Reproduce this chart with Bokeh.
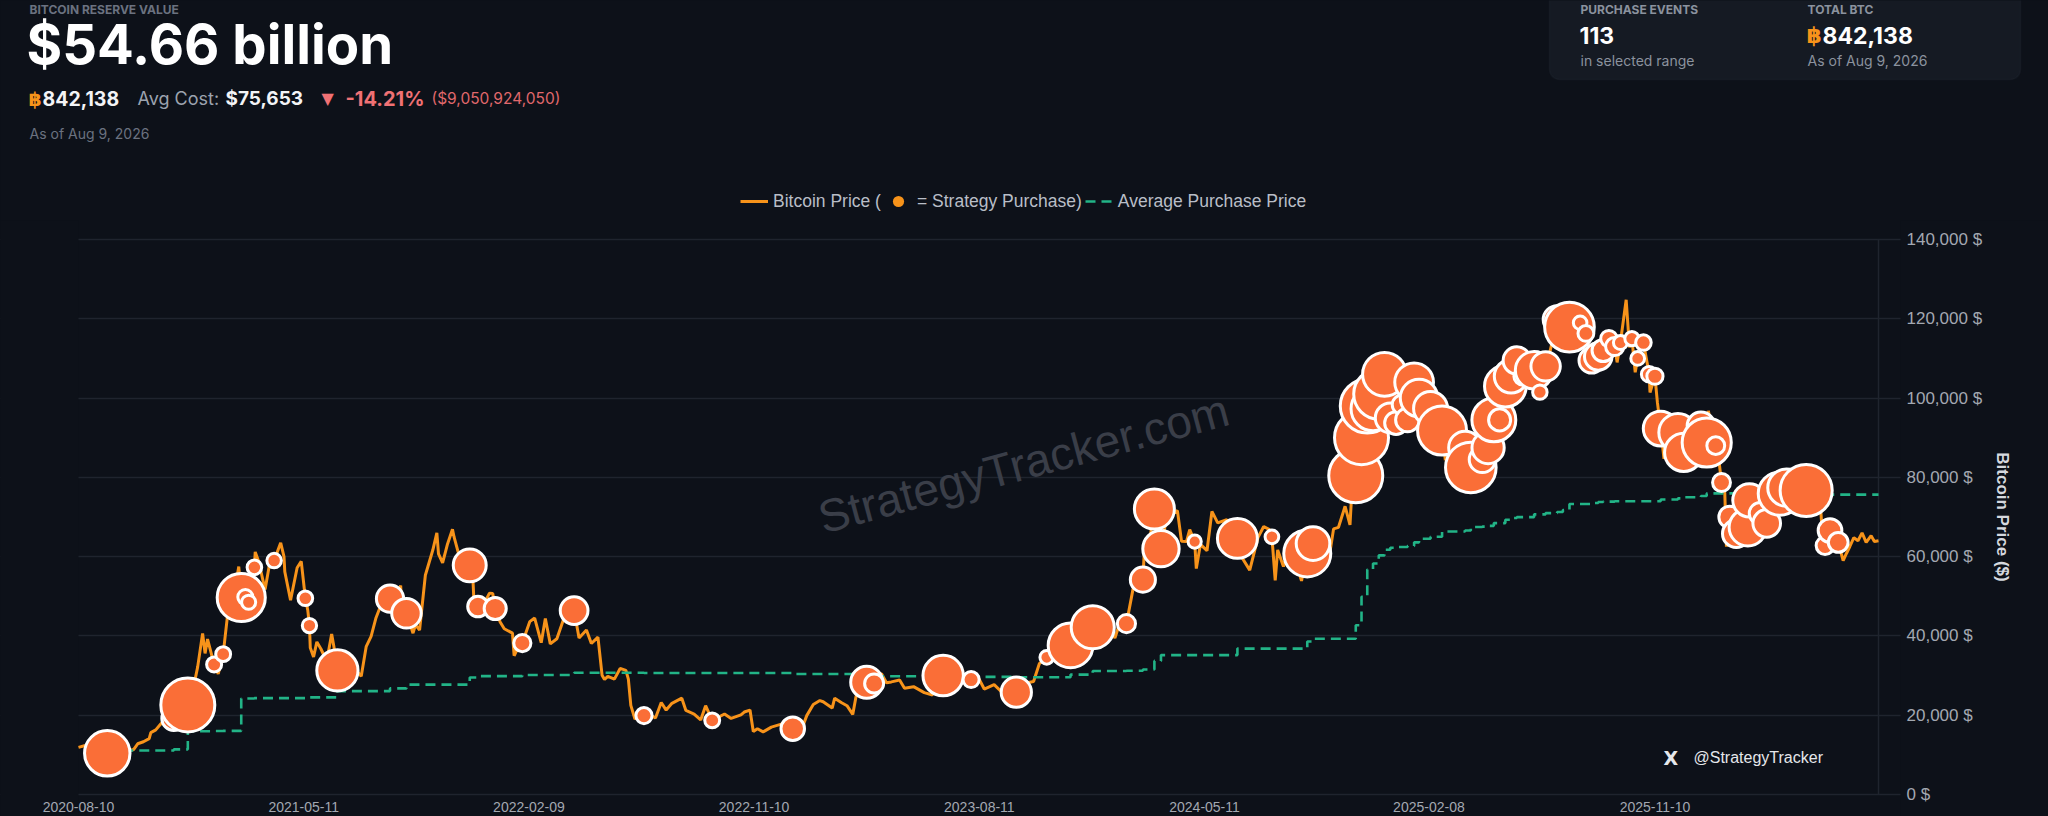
from datetime import datetime, timedelta
import numpy as np
import pandas as pd
from bokeh.plotting import figure
from bokeh.core.properties import value
from bokeh.models import (Range1d, FixedTicker, Grid, Label, Legend, LegendItem,
                          BoxAnnotation, ColumnDataSource, GlobalInlineStyleSheet)
from bokeh.embed import file_html
from bokeh.resources import INLINE

# ---------------- data ----------------
price_dates = [
 "2020-08-10","2020-08-17","2020-08-24","2020-09-01","2020-09-05","2020-09-14","2020-09-21","2020-09-28",
 "2020-10-08","2020-10-16","2020-10-21","2020-10-28","2020-11-04","2020-11-06","2020-11-12","2020-11-18",
 "2020-11-24","2020-11-26","2020-12-01","2020-12-04","2020-12-11","2020-12-16","2020-12-21","2020-12-24",
 "2020-12-28","2021-01-02","2021-01-08","2021-01-11","2021-01-14","2021-01-22","2021-01-27","2021-02-02",
 "2021-02-08","2021-02-14","2021-02-21","2021-02-24","2021-02-28","2021-03-01","2021-03-05","2021-03-09",
 "2021-03-12","2021-03-13","2021-03-17","2021-03-25","2021-03-31","2021-04-05","2021-04-13","2021-04-17",
 "2021-04-18","2021-04-25","2021-05-03","2021-05-08","2021-05-13","2021-05-16","2021-05-18","2021-05-19",
 "2021-05-23","2021-05-27","2021-06-01","2021-06-08","2021-06-14","2021-06-18","2021-06-21","2021-06-26",
 "2021-07-03","2021-07-08","2021-07-20","2021-07-26","2021-08-01","2021-08-07","2021-08-13","2021-08-22",
 "2021-08-24","2021-08-28","2021-09-06","2021-09-07","2021-09-13","2021-09-21","2021-09-24","2021-09-29",
 "2021-10-06","2021-10-15","2021-10-20","2021-10-22","2021-10-27","2021-11-02","2021-11-08","2021-11-10",
 "2021-11-16","2021-11-18","2021-11-24","2021-11-29","2021-12-03","2021-12-04","2021-12-09","2021-12-13",
 "2021-12-23","2021-12-27","2021-12-30","2022-01-05","2022-01-10","2022-01-20","2022-01-22","2022-01-27",
 "2022-02-01","2022-02-10","2022-02-16","2022-02-24","2022-03-01","2022-03-07","2022-03-15","2022-03-28",
 "2022-04-05","2022-04-11","2022-04-20","2022-04-26","2022-05-04","2022-05-09","2022-05-12","2022-05-16",
 "2022-05-24","2022-05-31","2022-06-07","2022-06-10","2022-06-13","2022-06-18","2022-06-22","2022-06-29",
 "2022-07-05","2022-07-13","2022-07-20","2022-07-26","2022-08-02","2022-08-14","2022-08-19","2022-08-29",
 "2022-09-06","2022-09-12","2022-09-20","2022-10-05","2022-10-13","2022-10-25","2022-10-29","2022-11-05",
 "2022-11-09","2022-11-14","2022-11-21","2022-12-01","2022-12-14","2022-12-20","2022-12-27","2023-01-08",
 "2023-01-13","2023-01-21","2023-01-29","2023-02-02","2023-02-13","2023-02-16","2023-02-24","2023-03-03",
 "2023-03-10","2023-03-14","2023-03-19","2023-03-27","2023-04-05","2023-04-11","2023-04-14","2023-04-20",
 "2023-04-26","2023-05-06","2023-05-12","2023-05-23","2023-06-05","2023-06-15","2023-06-21","2023-06-28",
 "2023-07-06","2023-07-13","2023-07-24","2023-08-01","2023-08-10","2023-08-17","2023-08-29","2023-09-11",
 "2023-09-19","2023-09-25","2023-10-01","2023-10-16","2023-10-23","2023-11-01","2023-11-09","2023-11-20",
 "2023-11-30","2023-12-05","2023-12-11","2023-12-20","2023-12-27","2024-01-03","2024-01-11","2024-01-15",
 "2024-01-23","2024-01-29","2024-02-06","2024-02-14","2024-02-20","2024-02-26","2024-02-28","2024-03-05",
 "2024-03-11","2024-03-14","2024-03-19","2024-03-26","2024-04-08","2024-04-13","2024-04-19","2024-04-23",
 "2024-04-29","2024-05-01","2024-05-06","2024-05-14","2024-05-20","2024-05-27","2024-06-07","2024-06-18",
 "2024-06-20","2024-06-24","2024-07-05","2024-07-15","2024-07-22","2024-07-29","2024-08-01","2024-08-05",
 "2024-08-08","2024-08-15","2024-08-25","2024-09-01","2024-09-06","2024-09-13","2024-09-20","2024-09-27",
 "2024-10-03","2024-10-10","2024-10-15","2024-10-21","2024-10-29","2024-11-04","2024-11-06","2024-11-11",
 "2024-11-13","2024-11-18","2024-11-22","2024-11-25","2024-11-26","2024-12-02","2024-12-05","2024-12-09",
 "2024-12-16","2024-12-20","2024-12-23","2024-12-26","2024-12-30","2025-01-06","2025-01-09","2025-01-13",
 "2025-01-20","2025-01-21","2025-01-27","2025-01-31","2025-02-03","2025-02-10","2025-02-18","2025-02-24",
 "2025-02-28","2025-03-02","2025-03-10","2025-03-17","2025-03-24","2025-03-31","2025-04-08","2025-04-14",
 "2025-04-21","2025-04-28","2025-05-05","2025-05-12","2025-05-19","2025-05-22","2025-05-26","2025-06-02",
 "2025-06-09","2025-06-16","2025-06-22","2025-06-23","2025-06-30","2025-07-03","2025-07-10","2025-07-14",
 "2025-07-21","2025-07-29","2025-08-02","2025-08-11","2025-08-14","2025-08-18","2025-08-25","2025-09-01",
 "2025-09-02","2025-09-08","2025-09-15","2025-09-22","2025-09-25","2025-09-29","2025-10-06","2025-10-10",
 "2025-10-13","2025-10-17","2025-10-20","2025-10-27","2025-11-03","2025-11-04","2025-11-10","2025-11-13",
 "2025-11-17","2025-11-21","2025-11-26","2025-12-01","2025-12-08","2025-12-15","2025-12-22","2025-12-29",
 "2026-01-05","2026-01-09","2026-01-12","2026-01-14","2026-01-17","2026-01-23","2026-01-27","2026-01-30",
 "2026-02-03","2026-02-05","2026-02-07","2026-02-09","2026-02-13","2026-02-17","2026-02-23","2026-03-03",
 "2026-03-05","2026-03-10","2026-03-18","2026-03-22","2026-03-26","2026-04-02","2026-04-11","2026-04-19",
 "2026-04-26","2026-05-04","2026-05-13","2026-05-22","2026-05-29","2026-05-31","2026-06-02","2026-06-05",
 "2026-06-11","2026-06-16","2026-06-21","2026-06-27","2026-07-01","2026-07-05","2026-07-10","2026-07-15",
 "2026-07-20","2026-07-25","2026-07-31","2026-08-04","2026-08-09"]
price_values = [
 11900,12300,11750,11900,10200,10400,10450,10700,
 10900,11350,12800,13300,14100,15600,16300,17800,
 19200,17100,19000,19200,18000,21300,22600,23700,
 27100,32200,40600,35600,39200,32800,30400,35400,
 46400,48700,57500,49700,45200,49800,48500,54000,
 57300,61200,58900,51700,58800,59000,63500,60000,
 56200,49000,57200,58800,49500,46400,42600,37000,
 34700,38500,36700,33600,40500,35800,31300,32300,
 34700,32900,29800,37300,39900,44600,47800,49300,
 49400,48900,52700,46800,45700,40700,42800,41500,
 55300,61600,66000,60700,58400,63200,66900,64900,
 60300,56900,57200,57800,53700,49400,47400,46700,
 50800,50700,46900,43500,41800,40700,35000,37100,
 38200,43600,44500,38300,44400,38000,39300,47100,
 46400,39500,41500,38100,39700,30100,29000,29800,
 29100,31800,31300,29100,22500,19000,20000,19900,
 20200,19300,23200,21300,23000,24300,21200,20300,
 18800,22400,18700,20300,19200,20100,20800,21300,
 15900,16600,15800,17000,17800,16900,16600,17100,
 19900,22700,23700,23400,21800,24300,23200,22400,
 20200,24700,28000,28300,28000,30200,30500,28200,
 28400,28900,26800,27200,25700,25100,30000,30000,
 30500,31400,29200,29000,29400,26600,27700,25100,
 27200,25800,27900,28500,33000,34600,36700,37400,
 37600,44000,41200,43600,42200,42800,46600,42500,
 39500,43300,43100,51800,52200,54200,62500,63800,
 72000,73100,62000,70000,71600,63900,63800,66800,
 63800,57000,63100,61500,71400,68500,69300,65100,
 64600,60300,56600,64800,67600,66800,65000,54000,
 61700,57500,64200,57300,53900,60800,63300,65800,
 60600,60300,67000,67400,72700,68000,75600,80400,
 90400,90000,98900,98000,91900,97300,103000,101000,
 106000,97500,95000,95800,93700,98300,92500,94500,
 106100,104000,100000,102400,98000,97400,95800,91800,
 84300,94200,78600,84000,87500,82500,76300,84500,
 87500,94500,94500,103000,105500,111700,109500,105500,
 108000,107000,101000,101500,108000,109600,116000,119800,
 117500,117900,112500,119000,118300,116300,109500,109200,
 110500,112000,115000,113000,109000,114000,124800,112800,
 115000,106500,110000,114000,106000,101400,105500,98900,
 92300,84700,90500,86500,91300,86300,88500,87500,
 93000,92000,88800,96800,93500,88000,84000,78700,
 76000,62500,68500,70000,66500,65800,67000,67400,
 74200,72000,70900,67500,68400,72500,75900,77400,
 74500,76000,76700,77800,74000,70900,64800,62800,
 66600,64500,63600,59000,60800,62500,64800,64000,
 66000,63600,65300,63800,64000]

purchase_dates = [
 "2020-09-14","2020-12-04","2020-12-21",
 "2021-01-22","2021-02-02","2021-02-24","2021-03-01","2021-03-05","2021-03-12","2021-04-05","2021-05-13",
 "2021-05-18","2021-06-21","2021-08-24","2021-09-13","2021-11-29","2021-12-09","2021-12-30",
 "2022-02-01","2022-04-05","2022-06-29","2022-09-20","2022-12-27",
 "2023-03-27","2023-04-05","2023-06-28","2023-08-01","2023-09-25","2023-11-01","2023-11-30","2023-12-27",
 "2024-02-06","2024-02-26","2024-03-11","2024-03-19","2024-04-29","2024-06-20","2024-08-01","2024-09-13",
 "2024-09-20","2024-11-11","2024-11-18","2024-11-25","2024-12-02","2024-12-09","2024-12-16","2024-12-23",
 "2024-12-30",
 "2025-01-06","2025-01-13","2025-01-21","2025-01-27","2025-02-10","2025-02-24","2025-03-17","2025-03-24",
 "2025-03-31","2025-04-14","2025-04-21","2025-04-28","2025-05-05","2025-05-12","2025-05-19","2025-05-26",
 "2025-06-02","2025-06-09","2025-06-16","2025-06-23","2025-06-30","2025-07-14","2025-07-21","2025-07-29",
 "2025-08-11","2025-08-18","2025-08-25","2025-09-02","2025-09-08","2025-09-15","2025-09-22","2025-09-29",
 "2025-10-13","2025-10-20","2025-10-27","2025-11-03","2025-11-10","2025-11-17","2025-12-01","2025-12-08",
 "2025-12-15","2025-12-29",
 "2026-01-05","2026-01-12","2026-01-23","2026-01-30","2026-02-09","2026-02-17","2026-03-03","2026-03-05",
 "2026-03-18","2026-03-26","2026-04-11","2026-04-19","2026-05-13","2026-06-05","2026-06-11","2026-06-21"]
purchase_prices = [
 10400,19200,22600,
 32800,35400,49700,49800,48500,57300,59000,49500,
 42600,31300,49400,45700,57800,47400,46900,
 38200,46400,19900,18700,16600,
 28300,28000,30000,29000,25800,34600,37600,42200,
 43100,54200,72000,62000,63800,64600,65000,60800,
 63300,80400,90000,98000,97300,101000,106000,95000,
 93700,
 98300,94500,104000,100000,97400,91800,84000,87500,
 82500,84500,87500,94500,94500,103000,105500,109500,
 105500,108000,107000,101500,108000,119800,117500,117900,
 119000,116300,109500,110500,112000,115000,113000,114000,
 115000,110000,114000,106000,105500,92300,86500,91300,
 86300,87500,
 93000,88800,88000,78700,70000,65800,67400,74200,
 70900,68400,75900,77400,76700,62800,66600,63600]
purchase_btc = [
 16796,2574,29646,
 314,295,19452,328,205,262,253,271,
 229,13005,3907,5050,7002,1434,1914,
 660,4167,480,301,2395,
 6455,1045,12333,467,5445,155,16130,14620,
 850,3000,12000,9245,122,11931,169,18300,
 7420,27200,51780,55500,15400,21550,15350,5262,
 2138,
 1070,2530,11000,10107,7633,20356,130,6911,
 22048,3459,6556,15355,1895,13390,7390,4020,
 705,1045,10100,245,4980,4225,6220,21021,
 155,430,3081,4048,1955,525,850,196,
 220,168,390,397,487,8178,130,10624,
 10645,1229,
 4100,20500,790,800,1800,4100,10000,7300,
 1800,4100,14800,10000,23700,800,2460,1240]

avg_dates = [
 "2020-09-14","2020-12-04","2020-12-21","2021-01-22","2021-02-02","2021-02-24","2021-03-12","2021-05-18",
 "2021-06-21","2021-08-24","2021-09-13","2021-11-29","2021-12-09","2022-02-01","2022-04-05","2022-06-29",
 "2022-09-20","2022-12-27","2023-03-27","2023-06-28","2023-09-25","2023-11-30","2023-12-27","2024-02-06",
 "2024-02-26","2024-03-11","2024-03-19","2024-06-20","2024-09-13","2024-09-20","2024-11-11","2024-11-18",
 "2024-11-25","2024-12-02","2024-12-09","2024-12-16","2024-12-23","2024-12-30","2025-01-13","2025-01-21",
 "2025-01-27","2025-02-10","2025-02-24","2025-03-24","2025-03-31","2025-04-14","2025-04-21","2025-04-28",
 "2025-05-12","2025-05-19","2025-05-26","2025-06-16","2025-06-30","2025-07-14","2025-07-21","2025-07-29",
 "2025-08-25","2025-09-02","2025-09-08","2025-09-22","2025-11-17","2025-12-08","2025-12-15","2026-01-05",
 "2026-01-12","2026-02-17","2026-03-03","2026-03-26","2026-04-19","2026-05-13","2026-06-11","2026-08-09"]
avg_values = [
 11110,11390,15960,16000,16050,24210,24300,24500,
 26080,26770,27710,29530,29860,30160,30700,30660,
 30640,30400,29820,29670,29590,30250,31170,31220,
 31540,33700,35160,36800,38590,39270,42690,49870,
 56760,58260,60320,61730,62260,62430,62690,63610,
 64510,65030,66360,66610,67460,67560,67770,68460,
 69290,69730,69980,70670,70980,71270,71760,73280,
 73530,73770,73880,73970,74430,74700,74970,75300,
 75950,75900,75850,75800,75750,75720,75653,75653]

y_ticks = [0, 20000, 40000, 60000, 80000, 100000, 120000, 140000]
y_tick_labels = ["0 $", "20,000 $", "40,000 $", "60,000 $", "80,000 $",
                 "100,000 $", "120,000 $", "140,000 $"]
x_tick_dates = ["2020-08-10","2021-05-11","2022-02-09","2022-11-10",
                "2023-08-11","2024-05-11","2025-02-08","2025-11-10"]

# ---------------- style / layout ----------------
BG = "#0d1119"
CARD = "#151a23"
CARD_BORDER = "#252b36"
GRID = "#1f242e"
ORANGE = "#f7931a"
DOT = "#fa6e37"
GREEN = "#22b487"
RED = "#f07174"
GRAY = "#8b929e"
DIM = "#6b7280"
TICK = "#a3a8b1"

W, H = 2048, 816
EPOCH = datetime(1970, 1, 1)
def ms(d):
    return (d - EPOCH).total_seconds() * 1000.0

D0 = datetime(2020, 8, 10)
D1 = datetime(2026, 8, 9)
PX0, PX1 = 78, 1878            # pixel x of the first / last day
PPD = (PX1 - PX0) / (D1 - D0).days
Y0_PX, YT_PX = 794, 239         # pixel y of 0 and of 140,000
YPP = (y_ticks[-1] - y_ticks[0]) / (Y0_PX - YT_PX)

def sx(px):
    return ms(D0 + timedelta(days=(px - PX0) / PPD))

def sy(py):
    return (Y0_PX - py) * YPP

p = figure(width=W, height=H, output_backend="svg", toolbar_location=None, tools="",
           x_axis_location=None, y_axis_location=None,
           x_range=Range1d(sx(0), sx(W)), y_range=Range1d(sy(H), sy(0)),
           min_border=0, min_border_left=0, min_border_right=0,
           min_border_top=0, min_border_bottom=0,
           background_fill_color=BG, border_fill_color=BG, outline_line_color=None)
p.stylesheets = [GlobalInlineStyleSheet(css="html, body { background-color: #0d1119; }")]

# drop the default grids and use one horizontal grid at the price ticks
p.center = [c for c in p.center if not isinstance(c, Grid)]
p.add_layout(Grid(dimension=1, ticker=FixedTicker(ticks=y_ticks),
                  grid_line_color=GRID, grid_line_width=1.5))
# keep the grid inside the plotting area
p.add_layout(BoxAnnotation(left=sx(0), right=sx(PX0), bottom=sy(H), top=sy(220),
                           fill_color=BG, fill_alpha=1, line_alpha=0, level="underlay"))
p.add_layout(BoxAnnotation(left=sx(1900), right=sx(W), bottom=sy(H), top=sy(220),
                           fill_color=BG, fill_alpha=1, line_alpha=0, level="underlay"))
# summary card, top right
p.add_layout(BoxAnnotation(left=sx(1549), right=sx(2020), bottom=sy(79), top=sy(-20),
                           fill_color=CARD, fill_alpha=1, line_color=CARD_BORDER, line_width=1.5,
                           border_radius=10, level="underlay"))

# ---------------- series ----------------
pd_dates = pd.to_datetime(price_dates)
price_src = ColumnDataSource(dict(x=pd_dates, y=price_values))
avg_src = ColumnDataSource(dict(x=pd.to_datetime(avg_dates), y=avg_values))
btc = np.array(purchase_btc, dtype=float)
r_outer = np.minimum(28.5, 6.6 + 0.136 * np.sqrt(btc))
buy_src = ColumnDataSource(dict(x=pd.to_datetime(purchase_dates), y=purchase_prices,
                                size=2 * r_outer - 3))

p.segment(x0=[pd_dates[-1]], x1=[pd_dates[-1]], y0=[y_ticks[0]], y1=[y_ticks[-1]],
          line_color=GRID, line_width=1.5)
r_line = p.line("x", "y", source=price_src, line_color=ORANGE, line_width=3)
r_avg = p.step("x", "y", source=avg_src, mode="after", line_color=GREEN, line_width=2.6,
               line_dash="10 6")
r_buy = p.scatter("x", "y", source=buy_src, size="size", marker="circle", fill_color=DOT,
                  line_color="white", line_width=3)
r_leg_dot = p.scatter(x=[pd_dates[0]], y=[np.nan], size=12, marker="circle",
                      fill_color=ORANGE, line_color=None)

# y axis labels (right side) and title
p.text(x=[sx(1906)] * len(y_ticks), y=y_ticks, text=y_tick_labels,
       text_font=value("Liberation Sans"), text_font_size="17px", text_color=TICK,
       text_align="left", text_baseline="middle")
p.text(x=[sx(2002)], y=[(y_ticks[0] + y_ticks[-1]) / 2], text=["Bitcoin Price ($)"],
       text_font=value("Liberation Sans"), text_font_size="17px", text_font_style="bold",
       text_color="#d5d8de", text_align="center", text_baseline="middle", angle=-np.pi / 2)

legend = Legend(items=[LegendItem(label="Bitcoin Price (", renderers=[r_line]),
                       LegendItem(label="= Strategy Purchase)", renderers=[r_leg_dot]),
                       LegendItem(label="Average Purchase Price", renderers=[r_avg])],
                orientation="horizontal", location=(740, H - 215),
                glyph_width=28, glyph_height=28, label_standoff=5, spacing=3,
                padding=0, margin=0, border_line_alpha=0, background_fill_alpha=0,
                label_text_font="Liberation Sans", label_text_font_size="17.5px",
                label_text_color="#b9bec7", label_height=28)
p.add_layout(legend)

# ---------------- texts ----------------
def text(t, px, py, size, color, font="Inter", bold=False, align="left", angle=0.0):
    p.add_layout(Label(x=sx(px), y=sy(py), text=t, text_font=font, text_font_size=size,
                       text_color=color, text_font_style="bold" if bold else "normal",
                       text_align=align, text_baseline="middle", angle=angle,
                       angle_units="deg"))

text("BITCOIN RESERVE VALUE", 29, 9, "12px", DIM, bold=True)
text("$54.66 billion", 26, 43, "54.5px", "#ffffff", bold=True)
text("\u0e3f", 28, 98, "19px", ORANGE, font="DejaVu Sans", bold=True)
text("842,138", 42, 98, "19.5px", "#f3f4f6", bold=True)
text("Avg Cost:", 137, 98, "18px", "#9ca3af")
text("$75,653", 225, 98, "19px", "#f3f4f6", bold=True)
text("\u25bc", 321, 98, "16px", RED, font="DejaVu Sans")
text("-14.21%", 345, 98, "20px", RED, bold=True)
text("($9,050,924,050)", 431, 98, "15.5px", "#e0686c")
text("As of Aug 9, 2026", 29, 133, "14px", DIM)

text("PURCHASE EVENTS", 1580, 9, "12px", GRAY, bold=True)
text("113", 1579, 35, "23px", "#ffffff", bold=True)
text("in selected range", 1580, 60, "14px", GRAY)
text("TOTAL BTC", 1807, 9, "12px", GRAY, bold=True)
text("\u0e3f", 1806, 35, "22px", ORANGE, font="DejaVu Sans", bold=True)
text("842,138", 1822, 35, "23px", "#ffffff", bold=True)
text("As of Aug 9, 2026", 1807, 60, "14px", GRAY)

text("StrategyTracker.com", 1023, 463, "46px", "#3a3e48", font="Liberation Sans",
     align="center", angle=15)
text("X", 1663, 757, "19px", "#e5e7eb", font="DejaVu Sans", bold=True)
text("@StrategyTracker", 1693, 757, "16px", "#e5e7eb", font="Liberation Sans")

for d in x_tick_dates:
    p.add_layout(Label(x=ms(datetime.strptime(d, "%Y-%m-%d")), y=sy(806), text=d,
                       text_font="Liberation Sans", text_font_size="14px",
                       text_color=TICK, text_align="center", text_baseline="middle"))

open("out.html", "w").write(file_html(p, INLINE))
